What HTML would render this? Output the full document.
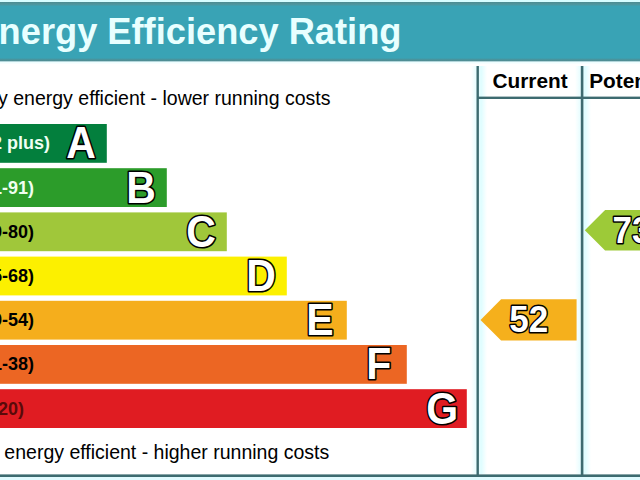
<!DOCTYPE html>
<html><head><meta charset="utf-8"><style>
html,body{margin:0;padding:0;background:#fff;width:640px;height:480px;overflow:hidden}
svg{display:block}
text{font-family:"Liberation Sans",sans-serif}
.lab{font-weight:bold;font-size:18px}
.let{font-weight:bold;font-size:41px;fill:#fff;stroke:#000;stroke-width:3.0px;paint-order:stroke fill;stroke-linejoin:round}
.num{font-weight:bold;font-size:35px;fill:#fff;stroke:#000;stroke-width:2.8px;paint-order:stroke fill;stroke-linejoin:round}
.hd{font-weight:bold;font-size:20.8px;fill:#000}
.sub{font-size:19.5px;fill:#000}
</style></head><body>
<svg width="640" height="480" viewBox="0 0 640 480">
<rect x="0" y="0" width="640" height="480" fill="#fff"/>
<rect x="0" y="0" width="640" height="2" fill="#d5fdff"/>
<defs><linearGradient id="tg" x1="0" x2="0" y1="0" y2="1"><stop offset="0" stop-color="#4a8b92"/><stop offset="0.45" stop-color="#4f949b"/><stop offset="1" stop-color="#39a3b5"/></linearGradient>
<linearGradient id="bg2" x1="0" x2="0" y1="0" y2="1"><stop offset="0" stop-color="#39a3b5"/><stop offset="0.5" stop-color="#4c9199"/><stop offset="1" stop-color="#52888f"/></linearGradient></defs>
<rect x="0" y="2" width="640" height="59.5" fill="#39a3b5"/>
<rect x="0" y="2" width="640" height="4.5" fill="url(#tg)"/>
<rect x="0" y="58" width="640" height="3.5" fill="url(#bg2)"/>
<rect x="0" y="61.5" width="640" height="2" fill="#effeff"/>
<text x="-25.6" y="43.6" style="font-weight:bold;font-size:36.25px" fill="#e8ffff">Energy Efficiency Rating</text>
<text x="-31.2" y="105.1" class="sub">Very energy efficient - lower running costs</text>
<text x="-31.4" y="458.5" class="sub">Not energy efficient - higher running costs</text>
<rect x="-10" y="124.00" width="116.80" height="38.8" fill="#037f3d"/>
<text x="-24.1" y="149.30" class="lab" fill="#effff4">(92 plus)</text>
<text transform="translate(66.35,158.40) scale(1,1.065)" class="let">A</text>
<rect x="-10" y="168.20" width="176.80" height="38.8" fill="#2c9c2a"/>
<text x="-24.1" y="193.50" class="lab" fill="#effff0">(81-91)</text>
<text transform="translate(126.35,202.60) scale(1,1.065)" class="let">B</text>
<rect x="-10" y="212.40" width="236.80" height="38.8" fill="#a0c73a"/>
<text x="-24.1" y="237.70" class="lab" fill="#000">(69-80)</text>
<text transform="translate(186.35,246.80) scale(1,1.065)" class="let">C</text>
<rect x="-10" y="256.60" width="296.80" height="38.8" fill="#fcf000"/>
<text x="-24.1" y="281.90" class="lab" fill="#000">(55-68)</text>
<text transform="translate(246.35,291.00) scale(1,1.065)" class="let">D</text>
<rect x="-10" y="300.80" width="356.80" height="38.8" fill="#f5ae1c"/>
<text x="-24.1" y="326.10" class="lab" fill="#000">(39-54)</text>
<text transform="translate(306.35,335.20) scale(1,1.065)" class="let">E</text>
<rect x="-10" y="345.00" width="416.80" height="38.8" fill="#ec6623"/>
<text x="-24.1" y="370.30" class="lab" fill="#000">(21-38)</text>
<text transform="translate(366.35,379.40) scale(1,1.065)" class="let">F</text>
<rect x="-10" y="389.20" width="476.80" height="38.8" fill="#e01c22"/>
<text x="-24.1" y="414.50" class="lab" fill="#5a0a0a">(1-20)</text>
<text transform="translate(426.35,423.60) scale(1,1.065)" class="let">G</text>
<defs><linearGradient id="halo" x1="0" x2="1" y1="0" y2="0"><stop offset="0" stop-color="#fff"/><stop offset="0.35" stop-color="#e6fdff"/><stop offset="0.65" stop-color="#e0fdff"/><stop offset="1" stop-color="#fff"/></linearGradient></defs>
<rect x="471" y="66" width="16" height="408" fill="url(#halo)"/>
<rect x="575" y="66" width="16" height="408" fill="url(#halo)"/>
<rect x="476.5" y="66" width="2.4" height="410" fill="#3d6b70"/>
<rect x="580.8" y="66" width="2.6" height="410" fill="#3d6b70"/>
<rect x="477" y="96.6" width="163" height="2.4" fill="#3d6b70"/>
<rect x="0" y="474.4" width="640" height="2.7" fill="#3d6b70"/>
<rect x="0" y="477.1" width="640" height="3" fill="#e0fbff"/>
<text x="492.55" y="87.7" class="hd">Current</text>
<text x="589.21" y="87.7" class="hd">Potential</text>
<polygon points="480.5,319.9 501.1,299.3 576.6,299.3 576.6,340.5 501.1,340.5" fill="#f5b01c"/>
<text transform="translate(509.3,331.9) scale(1,1.05)" class="num">52</text>
<polygon points="584.8,230.3 605.1,210 660,210 660,250.6 605.1,250.6" fill="#9dca38"/>
<text transform="translate(612.6,242.6) scale(1,1.05)" class="num">73</text>
</svg>
</body></html>
